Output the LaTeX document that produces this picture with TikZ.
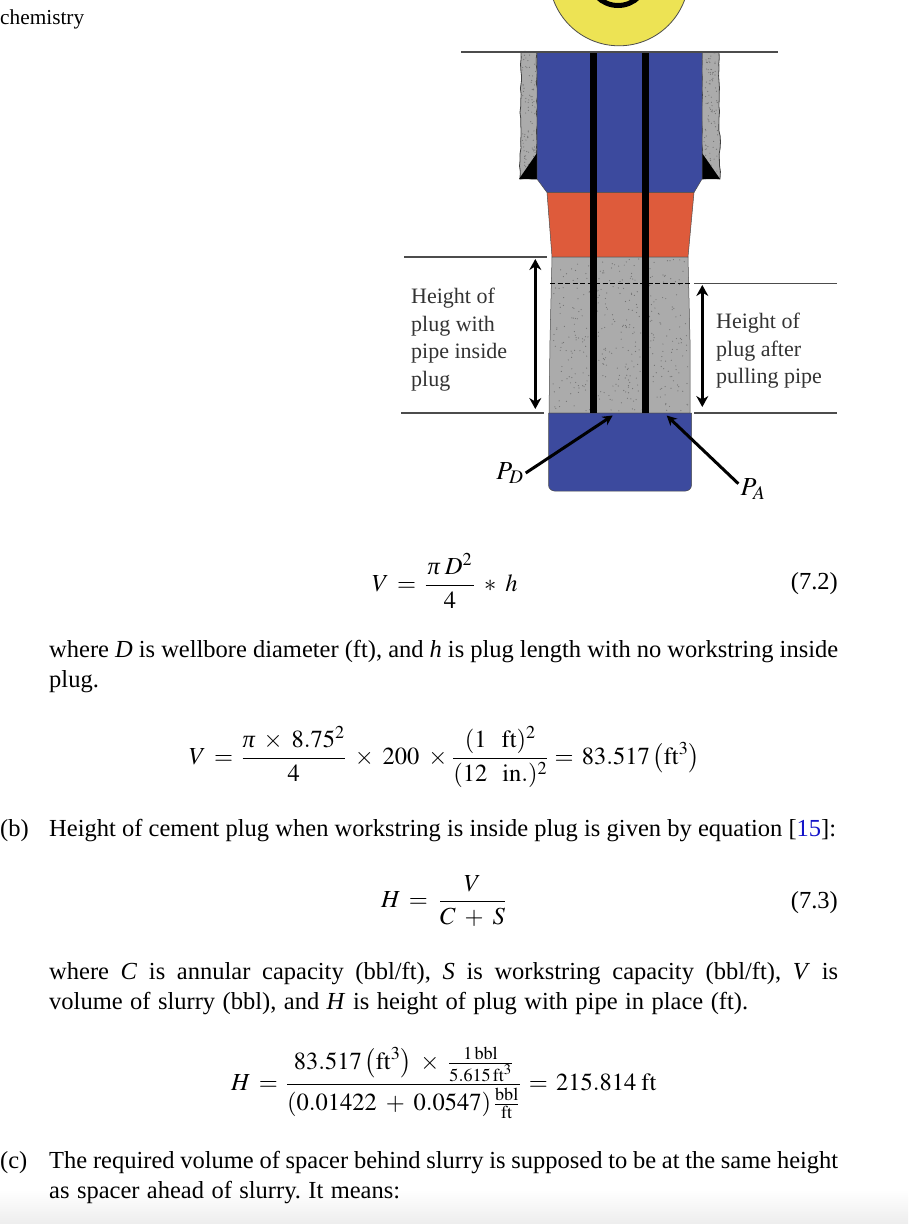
\documentclass[tikz,border=0pt]{standalone}
\usepackage{amsmath}
\usepackage{mathptmx}
\usepackage[no-math]{fontspec}
\setmainfont{Liberation Serif}
\usetikzlibrary{arrows.meta}
\usetikzlibrary{decorations.pathmorphing}
\definecolor{mud-blue}{HTML}{3C4A9E}
\definecolor{spacer-red}{HTML}{DE5B3B}
\definecolor{cement-gray}{HTML}{ABABAB}
\definecolor{ball-yellow}{HTML}{EDE354}
\definecolor{cite-blue}{HTML}{1414C8}
\tikzset{
  level-line/.style={draw=black!70, line width=1.5pt},
  height-path/.style={line width=3pt, {Stealth[length=11pt,width=12pt]}-{Stealth[length=11pt,width=12pt]}},
  press-path/.style={line width=3pt, -{Stealth[length=10pt,width=10pt]}},
  pipe-wall/.style={line width=6.5pt, draw=black},
  fig-label/.style={anchor=north west, align=left, inner sep=0pt, text=black!80, font=\fontsize{22}{27.5}\selectfont},
  press-label/.style={inner sep=2pt, font=\fontsize{26}{30}\selectfont},
  body-text/.style={anchor=base west, align=flush left, inner sep=0pt, text width=789pt, font=\frenchspacing\fontsize{24.5}{30}\selectfont},
  side-text/.style={anchor=base west, inner sep=0pt, font=\fontsize{24.5}{30}\selectfont},
  eq-text/.style={anchor=west, inner sep=0pt, font=\fontsize{24.5}{30}\selectfont},
  eq-num/.style={anchor=east, inner sep=0pt, font=\fontsize{24.5}{30}\selectfont},
}
\thickmuskip=6mu
\medmuskip=6.5mu
\newcommand{\fullline}[2][789pt]{\makebox[#1][s]{#2}}
\newcommand{\itpi}{\text{\itshape π}}
% random specks for the cement
\newcommand{\specks}[5]{%
\foreach \speck in {1,...,#5} {
  \pgfmathsetmacro{\speckx}{#1+rnd*(#3-#1)}
  \pgfmathsetmacro{\specky}{#2+rnd*(#4-#2)}
  \fill[black!55] (\speckx,\specky) circle (0.6pt);
}
}
\begin{document}
\begin{tikzpicture}[x=1pt, y=-1pt]
\useasboundingbox (0,0) rectangle (908,1224);
\pgfmathsetseed{7}
% faded page foot
\shade[top color=white, bottom color=black!7] (0,1190) rectangle (908,1224);
% ball
\begin{scope}
\clip (0,0) rectangle (908,1224);
\filldraw[fill=ball-yellow, draw=black!70, line width=0.8pt] (619,-24) circle (69.8);
\draw[line width=5pt] (618,-24) circle (29.5);
\end{scope}
% cement outside the upper section
\filldraw[fill=cement-gray, draw=black!75, line width=0.8pt, decorate, decoration={random steps, segment length=6pt, amplitude=0.8pt}] (521,52) -- (520,179) -- (537,179) -- (537,52) -- cycle;
\filldraw[fill=cement-gray, draw=black!75, line width=0.8pt, decorate, decoration={random steps, segment length=6pt, amplitude=0.8pt}] (719,52) -- (720,179) -- (702,179) -- (702,52) -- cycle;
\specks{522}{54}{536}{176}{90}
\specks{704}{54}{718}{176}{90}
% shoulders
\fill[black] (537,153) -- (537,179) -- (519,179) -- cycle;
\fill[black] (702,153) -- (702,179) -- (720,179) -- cycle;
% fluids in the hole
\filldraw[fill=mud-blue, draw=black!70, line width=0.5pt] (537,52) -- (702,52) -- (702,179) -- (694,192.5) -- (547,192.5) -- (537,179) -- cycle;
\filldraw[fill=spacer-red, draw=black!70, line width=0.5pt] (547,192.5) -- (694,192.5) -- (688,257) -- (552,257) -- cycle;
\filldraw[fill=cement-gray, draw=black!70, line width=0.5pt] (552,257) -- (688,257) -- (690,340) -- (690,413) -- (549,413) -- (550,340) -- cycle;
\specks{553}{259}{688}{411}{380}
\filldraw[fill=mud-blue, draw=black!70, line width=0.5pt, rounded corners=6pt] (548.5,413) [sharp corners] -- (691.5,413) [rounded corners=6pt] -- (691.5,491) -- (548.5,491) [sharp corners] -- cycle;
% top of plug after pulling pipe
\draw[line width=1.5pt, dash pattern=on 5pt off 2.5pt] (550,283.5) -- (690,283.5);
% workstring
\foreach \pipex in {593.5,645.7} {
  \draw[pipe-wall] (\pipex,52) -- (\pipex,413);
}
% levels
\draw[level-line] (461,52) -- (778,52);
\draw[level-line] (404,257) -- (547,257);
\draw[level-line] (401,413) -- (544,413);
\draw[level-line] (694,283.5) -- (837,283.5);
\draw[level-line] (694,413) -- (837,413);
% heights
\coordinate (plugtop) at (535.3,259);
\coordinate (plugbot) at (535.3,409);
\coordinate (aftertop) at (702.3,285);
\coordinate (afterbot) at (702.3,407);
\draw[height-path] (plugtop) -- (plugbot);
\draw[height-path] (aftertop) -- (afterbot);
\node[fig-label] (withpipe) at (411,288) {Height of\\plug with\\pipe inside\\plug};
\node[fig-label] (afterpull) at (716,313) {Height of\\plug after\\pulling pipe};
% pressures
\node[press-label] (pd) at (510,473) {$P_D$};
\node[press-label] (pa) at (753,489) {$P_A$};
\coordinate (pdtip) at (612.7,415.5);
\coordinate (patip) at (666.7,415.5);
\draw[press-path] (pd.east) -- (pdtip);
\draw[press-path] (pa.160) -- (patip);
% page text
\node[side-text, font=\fontsize{21.3}{24}\selectfont] (head) at (0,24) {chemistry};
\node[eq-text] (eqa) at (372,581) {$V=\dfrac{\hspace{2pt}\itpi\hspace{5pt} D^2\hspace{2pt}}{4}*h$};
\node[eq-num] (numa) at (838,584) {(7.2)};
\node[body-text] (para) at (49,657) {\fullline{where \textit{D} is wellbore diameter (ft), and \textit{h} is plug length with no workstring inside}\\plug.};
\node[eq-text] (eqb) at (189,757) {$V=\dfrac{\itpi\times 8.75^2}{4}\times 200\times\hspace{-4pt}\dfrac{(1\hspace{15pt}\mathrm{ft})^2}{(12\hspace{15pt}\mathrm{in.})^2}\hspace{-2pt}=83.517\left(\mathrm{ft}^3\right)$};
\node[side-text] (labb) at (0,836) {(b)};
\node[side-text] (parb) at (49,836) {\fullline[787pt]{Height of cement plug when workstring is inside plug is given by equation [\textcolor{cite-blue}{15}]:}};
\node[eq-text] (eqc) at (381,901) {$H=\hspace{3pt}\dfrac{V}{C+S}$};
\node[eq-num] (numc) at (838,903) {(7.3)};
\node[body-text] (parc) at (49,979) {\fullline{where \textit{C} is annular capacity (bbl/ft), \textit{S} is workstring capacity (bbl/ft), \textit{V} is}\\\fullline[699pt]{volume of slurry (bbl), and \textit{H} is height of plug with pipe in place (ft).}};
\node[eq-text] (eqd) at (231,1083) {$H=\dfrac{83.517\left(\mathrm{ft}^3\right)\times\frac{1\,\mathrm{bbl}}{5.615\,\mathrm{ft}^3}}{(0.01422+0.0547)\,\frac{\mathrm{bbl}}{\mathrm{ft}}}=215.814\hspace{5pt}\mathrm{ft}$};
\node[side-text] (labc) at (0,1168) {(c)};
\node[body-text] (pard) at (49,1168) {\fullline{The required volume of spacer behind slurry is supposed to be at the same height}\\\fullline[351pt]{as spacer ahead of slurry. It means:}};
\end{tikzpicture}
\end{document}
